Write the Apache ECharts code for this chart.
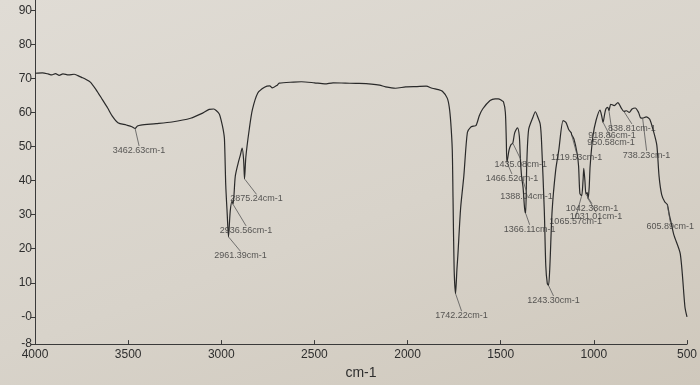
<!DOCTYPE html>
<html>
<head>
<meta charset="utf-8">
<script src="https://cdn.jsdelivr.net/npm/echarts@6/dist/echarts.min.js"></script>
<style>
  html, body { margin: 0; padding: 0; }
  #chart { width: 700px; height: 385px; background: linear-gradient(160deg, #e0dcd5 0%, #d8d3ca 55%, #cfc8bc 100%); }
</style>
</head>
<body>
<div id="chart"></div>
<script>
// ---- data ----
const wavenumbers = [4000, 3960, 3930, 3910, 3890, 3870, 3850, 3820, 3790, 3770, 3750, 3730, 3703, 3670, 3642, 3610, 3586, 3555, 3510, 3480, 3462.63, 3450, 3432, 3350, 3265, 3165, 3100, 3065, 3040, 3026, 3010, 3000, 2990, 2983, 2976, 2968, 2961.39, 2952, 2942, 2936.56, 2925, 2910, 2898, 2888, 2880, 2875.24, 2868, 2850, 2833, 2804, 2768, 2740, 2726, 2700, 2689, 2612, 2570, 2500, 2444, 2400, 2335, 2260, 2194, 2150, 2118, 2065, 2010, 1950, 1900, 1868, 1835, 1813, 1787, 1776, 1768, 1760, 1756, 1750, 1742.22, 1735, 1730, 1715, 1698, 1679, 1661, 1645, 1633, 1615, 1597, 1557, 1530, 1513, 1495, 1485, 1475, 1470, 1466.52, 1455, 1445, 1435.08, 1425, 1410, 1400, 1395, 1388.04, 1380, 1372, 1366.11, 1360, 1350, 1327, 1314, 1300, 1288, 1281, 1266, 1258, 1250, 1243.30, 1236, 1224, 1205, 1188, 1165, 1150, 1135, 1121, 1119.53, 1107, 1090, 1082, 1075, 1065.57, 1058, 1054, 1048, 1042.38, 1036, 1031.01, 1025, 1020, 1005, 988, 967, 958, 950.58, 942, 935, 925, 918.86, 909, 890, 871, 855, 838.81, 825, 810, 795, 778, 760, 750, 738.23, 719, 700, 680, 662, 650, 636, 619, 605.89, 595, 585, 570, 536, 511, 500];
const transmittance = [71.5, 71.6, 71.3, 71.0, 71.4, 70.9, 71.3, 71.0, 71.2, 70.8, 70.3, 69.8, 68.9, 66.5, 64.1, 61.3, 59.0, 57.0, 56.3, 55.8, 55.3, 56.0, 56.3, 56.7, 57.2, 58.3, 59.8, 60.9, 61.0, 60.5, 59.5, 57.5, 55.0, 52.2, 38.6, 30.0, 23.5, 31.0, 34.0, 33.0, 41.2, 45.0, 47.4, 49.5, 46.0, 40.5, 47.0, 55.0, 60.8, 65.7, 67.4, 67.8, 67.2, 68.0, 68.6, 68.9, 69.0, 68.7, 68.4, 68.7, 68.6, 68.5, 68.3, 68.0, 67.5, 67.1, 67.5, 67.6, 67.7, 67.1, 66.7, 66.2, 64.2, 61.5, 57.0, 49.0, 35.0, 14.0, 6.8, 14.0, 18.0, 32.0, 41.3, 54.1, 55.7, 56.0, 56.1, 59.0, 61.0, 63.5, 64.0, 64.0, 63.5, 63.1, 60.0, 52.0, 45.3, 49.0, 50.5, 51.0, 54.0, 55.5, 53.0, 47.0, 41.3, 38.0, 32.0, 30.4, 45.0, 55.0, 58.6, 60.2, 58.5, 56.6, 51.7, 31.2, 15.0, 9.8, 9.2, 15.0, 31.1, 43.0, 49.0, 57.6, 57.1, 55.0, 54.0, 53.5, 52.2, 48.0, 44.3, 36.2, 35.5, 40.0, 43.6, 40.0, 36.0, 36.5, 34.7, 38.0, 44.2, 53.0, 57.7, 60.7, 59.0, 57.1, 59.5, 61.1, 61.5, 60.5, 62.4, 62.0, 62.9, 61.5, 60.3, 60.5, 60.0, 61.0, 61.3, 60.0, 58.5, 58.3, 58.7, 58.0, 54.5, 50.4, 41.3, 35.9, 33.7, 33.0, 30.0, 27.6, 24.0, 18.5, 2.9, 0.0];

const peakWavenumbers = [3462.63, 2961.39, 2936.56, 2875.24, 1742.22, 1466.52, 1435.08, 1388.04, 1366.11, 1243.30, 1119.53, 1065.57, 1042.38, 1031.01, 950.58, 918.86, 838.81, 738.23, 605.89];
const peakValues = [55.3, 23.5, 33.0, 40.5, 6.8, 45.3, 51.0, 41.3, 30.4, 9.2, 53.5, 35.5, 36.0, 34.7, 57.1, 60.5, 60.3, 58.3, 33.0];
const peakLabels = ["3462.63cm-1", "2961.39cm-1", "2936.56cm-1", "2875.24cm-1", "1742.22cm-1", "1466.52cm-1", "1435.08cm-1", "1388.04cm-1", "1366.11cm-1", "1243.30cm-1", "1119.53cm-1", "1065.57cm-1", "1042.38cm-1", "1031.01cm-1", "950.58cm-1", "918.86cm-1", "838.81cm-1", "738.23cm-1", "605.89cm-1"];

const yTickValues = [-8, 0, 10, 20, 30, 40, 50, 60, 70, 80, 90];
const xAxisTitle = "cm-1";

// ---- label placement (layout, not data) ----
const labelOffsets = [[4, 22], [12, 19], [13, 26], [12, 20], [6, 22], [5, 16], [8, 21], [5, 20], [4, 16], [5, 15], [5, 23], [-6, 26], [6, 14], [8, 18], [8, 20], [3, 25], [8, 17], [4, 37], [3, 22]];

const spectrum = wavenumbers.map((w, i) => [w, transmittance[i]]);
const peaks = peakWavenumbers.map((w, i) => ({ value: [w, peakValues[i]], name: peakLabels[i] }));

const chart = echarts.init(document.getElementById('chart'), null, { renderer: 'canvas' });
const txt = '#2e2e2e';
const font = 'Liberation Sans, Arial, sans-serif';
chart.setOption({
  animation: false,
  backgroundColor: 'transparent',
  grid: { left: 35, right: 4, top: 0, bottom: 29, containLabel: false },
  xAxis: {
    type: 'value', min: 500, max: 4000, interval: 500, inverse: true,
    name: xAxisTitle, nameLocation: 'middle', nameGap: 21,
    nameTextStyle: { color: txt, fontSize: 14, fontFamily: font },
    axisLine: { show: true, onZero: false, lineStyle: { color: '#3a3a3a', width: 1 } },
    axisTick: { show: true, inside: true, length: 4, lineStyle: { color: '#3a3a3a' } },
    axisLabel: { color: txt, fontSize: 12, margin: 5, showMinLabel: true, showMaxLabel: true, fontFamily: font, formatter: v => String(v) },
    splitLine: { show: false }
  },
  yAxis: {
    type: 'value', min: -8, max: 93,
    axisLine: { show: true, lineStyle: { color: '#3a3a3a', width: 1 } },
    axisTick: { show: true, length: 4, customValues: yTickValues, lineStyle: { color: '#3a3a3a' } },
    axisLabel: {
      color: txt, fontSize: 12, margin: 3, customValues: yTickValues,
      fontFamily: font,
      formatter: v => (v === 0 ? '-0' : String(v))
    },
    splitLine: { show: false }
  },
  series: [
    {
      type: 'line', data: spectrum, showSymbol: false, smooth: 0.25,
      lineStyle: { color: '#2a2a2a', width: 1.2 }, z: 2
    },
    {
      type: 'scatter', data: peaks, symbol: 'circle', symbolSize: 1,
      itemStyle: { color: 'rgba(0,0,0,0)' },
      label: {
        show: true, formatter: p => p.name, color: '#333', fontSize: 9,
        fontFamily: font, position: 'inside'
      },
      labelLine: { show: true, lineStyle: { color: '#555', width: 0.8 } },
      labelLayout: function (params) {
        const o = labelOffsets[params.dataIndex];
        const cx = params.rect.x + params.rect.width / 2;
        const cy = params.rect.y + params.rect.height / 2;
        return { x: cx + o[0], y: cy + o[1], align: 'center', verticalAlign: 'middle' };
      },
      z: 3
    }
  ]
});
</script>
</body>
</html>
